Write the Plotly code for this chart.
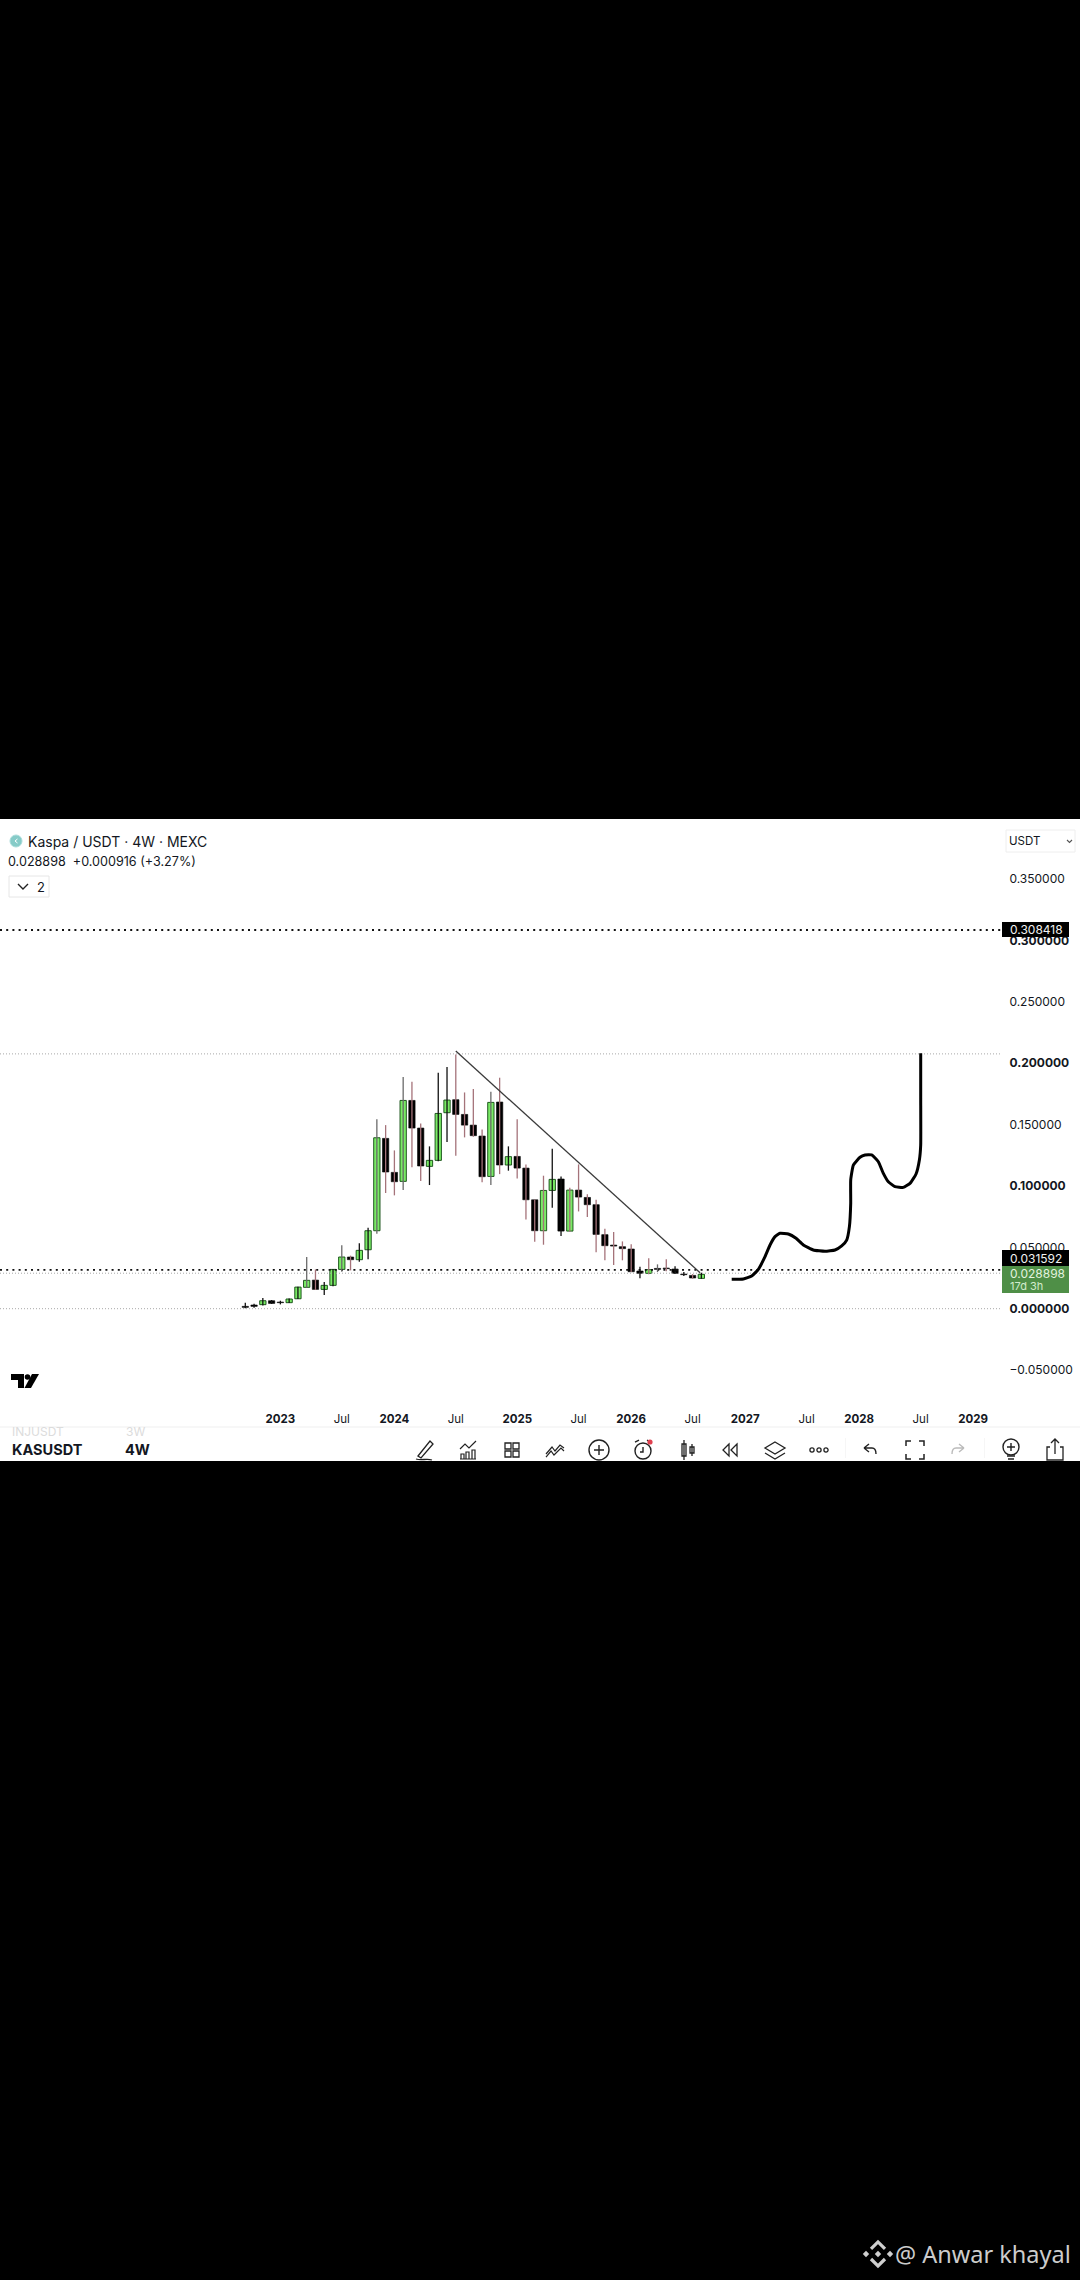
import plotly.graph_objects as go

# ---------- data ----------
opens = [.0019,.0030,.0033,.0065,.0054,.0049,.0081,.0174,.0233,.0157,.0190,.0320,.0421,.0399,.0480,.0635,
         .1387,.1110,.1037,.1696,.1471,.1159,.1208,.1596,.1702,.1582,.1495,.1406,.1077,.1683,.1170,.1240,
         .1145,.0887,.0635,.0963,.1056,.0632,.0966,.0906,.0847,.0603,.0518,.0505,.0486,.0307,.0288,.0328,
         .0331,.0323,.0282,.0271,.0247]
closes = [.0011,.0019,.0065,.0043,.0049,.0079,.0176,.0231,.0157,.0190,.0320,.0421,.0399,.0475,.0635,.1392,
          .1113,.1034,.1696,.1471,.1162,.1208,.1590,.1699,.1582,.1495,.1409,.1075,.1680,.1170,.1238,.1145,
          .0887,.0635,.0963,.1053,.0632,.0966,.0909,.0847,.0605,.0513,.0510,.0489,.0301,.0288,.0318,.0320,
          .0326,.0288,.0277,.0250,.0280]
highs = [.0049,.0041,.0087,.0071,.0065,.0084,.0179,.0421,.0320,.0217,.0323,.0516,.0432,.0532,.0660,.1542,
         .1495,.1289,.1886,.1848,.1509,.1322,.1922,.1968,.2071,.1761,.1789,.1460,.1767,.1881,.1322,.1542,
         .1175,.0890,.1083,.1303,.1077,.0985,.1175,.0931,.0887,.0651,.0624,.0548,.0524,.0342,.0410,.0361,
         .0402,.0345,.0299,.0282,.0293]
lows = [.0003,.0008,.0027,.0038,.0035,.0046,.0079,.0171,.0152,.0111,.0182,.0301,.0312,.0383,.0402,.0611,
        .0942,.0923,.0966,.1151,.1039,.1007,.1200,.1357,.1246,.1395,.1400,.1029,.1007,.1096,.1124,.1061,
        .0727,.0546,.0521,.0822,.0592,.0627,.0792,.0746,.0459,.0394,.0356,.0394,.0299,.0247,.0280,.0299,
        .0304,.0282,.0266,.0244,.0244]
wick_tone = list("kkkkkkkgrkkgrkkgrrgrrkkkrrrrgrkrrrrkkrrrrrrrrkrgrkkrk"[:53])
candle_index = list(range(len(opens)))

hand_x = [55.46,56.79,57.74,58.50,59.26,59.83,60.40,60.97,61.92,62.80,63.63,64.77,66.10,67.24,68.00,68.57,68.88,
          69.03,69.03,69.33,70.09,70.66,71.42,72.18,72.75,73.32,74.08,75.03,75.79,76.48,76.86,77.01,77.01,77.01]
hand_y = [.0239,.0242,.0266,.0321,.0424,.0519,.0587,.0614,.0608,.0573,.0519,.0478,.0467,.0478,.0511,.0559,.0668,
          .0858,.1048,.1170,.1233,.1252,.1252,.1197,.1102,.1034,.0994,.0988,.1021,.1097,.1211,.1333,.1727,.2080]
trend_x = [24.0, 51.85]
trend_y = [.2098, .0293]
bold_levels = [0.308418, 0.031592]
thin_levels = [0.2075, 0.0289, 0.0]

x_tick_vals = [4, 11, 17, 24, 31, 38, 44, 51, 57, 64, 70, 77, 83]
x_tick_text = ["<b>2023</b>","Jul","<b>2024</b>","Jul","<b>2025</b>","Jul","<b>2026</b>","Jul",
               "<b>2027</b>","Jul","<b>2028</b>","Jul","<b>2029</b>"]
y_tick_vals = [0.35, 0.30, 0.25, 0.20, 0.15, 0.10, 0.05, 0.0, -0.05]
y_tick_text = ["0.350000","<b>0.300000</b>","0.250000","<b>0.200000</b>","0.150000","<b>0.100000</b>",
               "0.050000","<b>0.000000</b>","−0.050000"]

# ---------- helpers ----------
W, H = 1080, 2280
FONT = "Inter, Roboto, sans-serif"
GREEN, EDGE = "#7aea66", "#0f4a0f"
TONES = {"k": "#111111", "g": "#6a6a6a", "r": "#a5737a"}
shapes, annotations = [], []

def px(x): return x / W
def py(y): return 1 - y / H

def rect(x0, y0, x1, y1, fill, line=None, layer="above", lw=1):
    shapes.append(dict(type="rect", xref="paper", yref="paper", x0=px(x0), x1=px(x1), y0=py(y1), y1=py(y0),
                       fillcolor=fill, line=dict(color=line or fill, width=lw if line else 0), layer=layer))

def circle(cx, cy, r, fill="rgba(0,0,0,0)", line="#222", lw=1.4):
    shapes.append(dict(type="circle", xref="paper", yref="paper", x0=px(cx-r), x1=px(cx+r), y0=py(cy+r), y1=py(cy-r),
                       fillcolor=fill, line=dict(color=line, width=lw), layer="above"))

def path(cx, cy, d, line="#222", lw=1.4, fill="rgba(0,0,0,0)"):
    out, nums = [], []
    for tok in d.split():
        if tok.isalpha():
            out.append(tok)
        else:
            nums.append(float(tok))
            if len(nums) == 2:
                out.append(f"{px(cx+nums[0]):.5f},{py(cy+nums[1]):.5f}")
                nums = []
    shapes.append(dict(type="path", xref="paper", yref="paper", path=" ".join(out),
                       fillcolor=fill, line=dict(color=line, width=lw), layer="above"))

def text(x, y, s, size=12, color="#131722", anchor="left", font=FONT):
    annotations.append(dict(xref="paper", yref="paper", x=px(x), y=py(y), text=s, showarrow=False,
                            xanchor=anchor, yanchor="middle", font=dict(size=size, color=color, family=font),
                            borderpad=0, borderwidth=0))

# ---------- traces ----------
fig = go.Figure()
X_RANGE = [-27.97, 86.28]

for lv in thin_levels:
    fig.add_trace(go.Scatter(x=X_RANGE, y=[lv, lv], mode="lines", hoverinfo="skip",
                             line=dict(color="#a8a8a8", width=1, dash="1px,2px")))
for lv in bold_levels:
    fig.add_trace(go.Scatter(x=X_RANGE, y=[lv, lv], mode="lines", hoverinfo="skip",
                             line=dict(color="#111111", width=1.9, dash="2px,4.2px")))

for tone, colour in TONES.items():
    wx, wy = [], []
    for i, t in zip(candle_index, wick_tone):
        if t == tone:
            wx += [i, i, None]
            wy += [lows[i], highs[i], None]
    fig.add_trace(go.Scatter(x=wx, y=wy, mode="lines", hoverinfo="skip", line=dict(color=colour, width=1.3)))

up = [i for i in candle_index if closes[i] > opens[i]]
down = [i for i in candle_index if closes[i] <= opens[i]]
fig.add_trace(go.Bar(x=up, base=[opens[i] for i in up], y=[closes[i]-opens[i] for i in up], width=0.72,
                     marker=dict(color=GREEN, line=dict(color=EDGE, width=0.9)), hoverinfo="skip"))
fig.add_trace(go.Bar(x=down, base=[closes[i] for i in down], y=[opens[i]-closes[i] for i in down], width=0.72,
                     marker=dict(color="#000000", line=dict(color="#000000", width=0.6)), hoverinfo="skip"))

fig.add_trace(go.Scatter(x=trend_x, y=trend_y, mode="lines", hoverinfo="skip", line=dict(color="#3a3a3a", width=1.3)))
fig.add_trace(go.Scatter(x=hand_x, y=hand_y, mode="lines", hoverinfo="skip",
                         line=dict(color="#000000", width=3, shape="spline", smoothing=0.4)))

# ---------- panel & chrome ----------
rect(0, 819, W, 1461, "#ffffff", layer="below")
rect(0, 1426.5, W, 1427.5, "#efefef", layer="below")

# legend block
circle(16, 841, 6, fill="#86cbc8", line="#a9dcda", lw=1)
path(16, 841, "M 1.5 -2 L -1 0 L 1.5 2", line="#ffffff", lw=1)
text(28, 841, "Kaspa / USDT · 4W · MEXC", size=14)
text(8, 862, "0.028898  +0.000916 (+3.27%)", size=12.6)
rect(9, 876, 49, 897, "#ffffff", line="#e6e6e6")
path(0, 0, "M 18 884 L 23 889 L 28 884", lw=1.4)
text(37, 886.5, "2", size=13)

# currency selector
rect(1006, 830, 1075, 852, "#ffffff", line="#eeeeee")
text(1009, 841, "USDT", size=11.5)
path(0, 0, "M 1067 840 L 1069.5 842.5 L 1072 840", lw=1.1, line="#555")

# price tags
rect(1002, 922, 1069, 937, "#000000")
text(1010, 929.5, "0.308418", size=12, color="#f2f2f2")
rect(1002, 1250, 1069, 1266, "#000000")
text(1010, 1258, "0.031592", size=12, color="#f2f2f2")
rect(1002, 1266, 1069, 1293, "#4f8f47")
text(1010, 1273, "0.028898", size=12, color="#e3f3df")
text(1010, 1286, "17d 3h", size=11, color="#d2ebcc")

# TradingView mark
path(0, 0, "M 11 1374 L 24 1374 L 24 1388 L 18 1388 L 18 1380 L 11 1380 Z", line="#000", lw=0, fill="#000000")
circle(27.5, 1377, 2.8, fill="#000000", line="#000000", lw=0)
path(0, 0, "M 32 1374 L 39 1374 L 31 1388 L 24.5 1388 Z", line="#000", lw=0, fill="#000000")

# bottom bar
text(12, 1431, "INJUSDT", size=12, color="#dcdcdc")
text(126, 1431, "3W", size=12, color="#dcdcdc")
rect(0, 1437, 250, 1441, "#ffffff")
text(12, 1449, "<b>KASUSDT</b>", size=14.5)
text(125, 1449, "<b>4W</b>", size=14.5)

CY = 1450
path(424, CY, "M -8 9 C -2 11 2 8 8 10 M -6 6 L 6 -9 L 9 -6 L -3 8 Z", lw=1.3)
path(468, CY, "M -8 -1 L -3 -6 L 1 -2 L 8 -9 M -8 9 L 8 9 M -7 9 L -7 4 L -4 4 L -4 9 M -2 9 L -2 2 L 1 2 L 1 9 M 4 9 L 4 0 L 7 0 L 7 9", lw=1.2)
for dx, dy in [(-4, -4), (4, -4), (-4, 4), (4, 4)]:
    rect(512+dx-3, CY+dy-3, 512+dx+3, CY+dy+3, "rgba(0,0,0,0)", line="#222", lw=1.3)
path(555, CY, "M -9 4 L -3 -3 L 0 1 L 5 -5 L 9 -2 M -9 7 L -4 1 L -1 5 L 6 -2 L 9 1", lw=1.2)
circle(599, CY, 10)
path(599, CY, "M -5 0 L 5 0 M 0 -5 L 0 5")
circle(643, CY+1, 8)
path(643, CY+1, "M 0 -4 L 0 1 L -3 1 M -8 -9 L -4 -11 M 4 -11 L 8 -9")
circle(650, CY-8, 2.6, fill="#e0404f", line="#e0404f", lw=0)
path(684, CY, "M 0 -10 L 0 10 M -2 -6 L 2 -6 L 2 6 L -2 6 Z", lw=1.3)
path(692, CY, "M 0 -6 L 0 6 M -2 -3 L 2 -3 L 2 3 L -2 3 Z", lw=1.3)
path(730, CY, "M -1 -6 L -7 0 L -1 6 Z M 7 -6 L 1 0 L 7 6 Z", lw=1.3)
path(775, CY, "M 0 -8 L 10 -2 L 0 4 L -10 -2 Z M -10 3 L 0 9 L 10 3", lw=1.3)
for dx in (-7, 0, 7):
    circle(819+dx, CY, 2.1, lw=1.3)
rect(845, 1438, 845.6, 1458, "#f0f0f0")
path(870, CY, "M -6 -2 L -1 -6 M -6 -2 L -1 2 M -6 -2 L 2 -2 C 5 -2 6 1 6 4", lw=1.4)
path(915, CY, "M -9 -4 L -9 -9 L -4 -9 M 4 -9 L 9 -9 L 9 -4 M 9 4 L 9 9 L 4 9 M -4 9 L -9 9 L -9 4", lw=1.5)
path(958, CY, "M 6 -2 L 1 -6 M 6 -2 L 1 2 M 6 -2 L -2 -2 C -5 -2 -6 1 -6 4", line="#bbbbbb", lw=1.4)
rect(984, 1438, 984.6, 1458, "#f0f0f0")
circle(1011, CY-3, 8)
path(1011, CY-3, "M -4 0 L 4 0 M 0 -4 L 0 4 M -4 9 L 4 9 M -3 12 L 3 12")
path(1055, CY, "M -5 -3 L -8 -3 L -8 10 L 8 10 L 8 -3 L 5 -3 M 0 4 L 0 -11 M -4 -7 L 0 -11 L 4 -7", lw=1.3)

# watermark
for dx, dy in [(-12, 0), (12, 0), (0, 0)]:
    path(878+dx, 2254+dy, "M 0 -3.2 L 3.2 0 L 0 3.2 L -3.2 0 Z", line="#cfcfcf", lw=0, fill="#cfcfcf")
path(878, 2254, "M -7 -5 L 0 -12 L 7 -5 M -7 5 L 0 12 L 7 5", line="#cfcfcf", lw=3.2)
text(895, 2254, "@ Anwar khayal", size=23.5, color="#cccccc", font="'Noto Sans', 'Open Sans', sans-serif")

fig.update_layout(
    width=W, height=H, autosize=False, margin=dict(l=0, r=0, t=0, b=0),
    paper_bgcolor="#000000", plot_bgcolor="rgba(0,0,0,0)", showlegend=False,
    barmode="overlay", shapes=shapes, annotations=annotations, font=dict(family=FONT, color="#131722"),
    xaxis=dict(domain=[0, 1002/W], range=X_RANGE, tickmode="array", tickvals=x_tick_vals, ticktext=x_tick_text,
               showgrid=False, zeroline=False, showline=False, ticks="outside", ticklen=4, tickcolor="rgba(0,0,0,0)",
               tickfont=dict(size=11.5, color="#131722", family=FONT)),
    yaxis=dict(domain=[py(1404), py(819)], range=[(1308.7-1404)/1228, (1308.7-819)/1228], side="right",
               anchor="x", tickmode="array", tickvals=y_tick_vals, ticktext=y_tick_text,
               showgrid=False, zeroline=False, showline=False, ticks="outside", ticklen=4, tickcolor="rgba(0,0,0,0)",
               tickfont=dict(size=12, color="#131722", family=FONT)),
)
fig.write_html("out.html", config=dict(displayModeBar=False),
               post_script="document.body.style.margin='0';document.body.style.background='#000';"
                           "document.documentElement.style.overflow='hidden';")
